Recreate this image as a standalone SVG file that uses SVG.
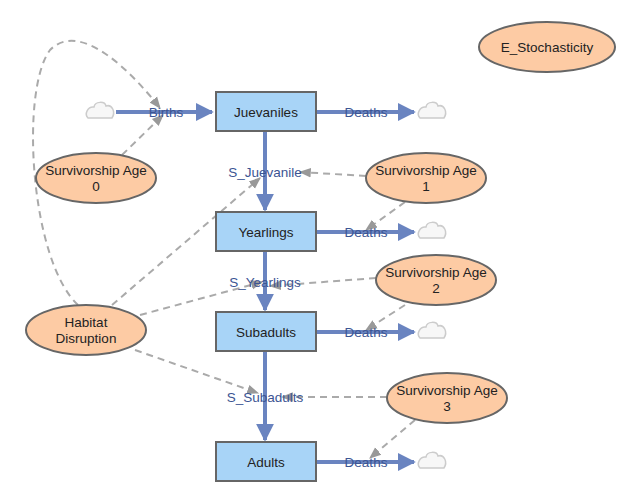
<svg xmlns="http://www.w3.org/2000/svg" width="623" height="504" viewBox="0 0 623 504">
<style>
text{font-family:"Liberation Sans",Arial,sans-serif;font-size:13.5px;text-anchor:middle;dominant-baseline:central;fill:#222}
.box{fill:#a8d4f7;stroke:#666;stroke-width:2}
.ell{fill:#fdcba4;stroke:#666;stroke-width:2}
.flow{stroke:#6a84c0;stroke-width:4;fill:none;marker-end:url(#fa)}
.lnk{stroke:#aaa;stroke-width:2;stroke-dasharray:7,5;fill:none;marker-end:url(#la)}
text.fl{fill:#3c5593}
.cloud{fill:#f7f7f7;stroke:#ccc;stroke-width:1.5}
</style>
<defs>
<marker id="fa" viewBox="0 0 10 10" refX="9" refY="5" markerWidth="4.5" markerHeight="4.5" orient="auto"><path d="M0,0L10,5L0,10z" fill="#6a84c0"/></marker>
<marker id="la" viewBox="0 0 10 10" refX="9" refY="5" markerWidth="6" markerHeight="6" orient="auto"><path d="M0,1L10,5L0,9z" fill="#999"/></marker>
<g id="cl"><path class="cloud" d="M-12,6 C-16,2 -12,-6 -6,-5 C-5,-11 5,-11 6,-6 C12,-8 16,0 12,6 Z"/></g>
</defs>
<g id="connectors">
<path class="flow" d="M116,112H212"/>
<path class="flow" d="M316,112H414"/>
<path class="flow" d="M316,232H414"/>
<path class="flow" d="M316,332H414"/>
<path class="flow" d="M316,462H414"/>
<path class="flow" d="M265,131V210"/>
<path class="flow" d="M265,251V310"/>
<path class="flow" d="M265,351V440"/>
<path class="lnk" d="M122,155L163,115"/>
<path class="lnk" d="M366,176L300,172"/>
<path class="lnk" d="M405,202L366,230"/>
<path class="lnk" d="M376,278L270,286"/>
<path class="lnk" d="M405,305L366,330"/>
<path class="lnk" d="M387,397L282,397"/>
<path class="lnk" d="M415,420L370,458"/>
<path class="lnk" d="M78,305C30,260 20,90 50,50C80,20 130,70 160,108"/>
<path class="lnk" d="M112,305L260,178"/>
<path class="lnk" d="M140,315L262,282"/>
<path class="lnk" d="M135,350L258,393"/>
</g>
<g id="clouds"><use href="#cl" x="100" y="112"/><use href="#cl" x="432" y="112"/><use href="#cl" x="432" y="232"/><use href="#cl" x="432" y="332"/><use href="#cl" x="432" y="462"/></g>
<g id="flowlabels">
<text class="fl" x="166" y="112">Births</text>
<text class="fl" x="366" y="112">Deaths</text>
<text class="fl" x="366" y="232">Deaths</text>
<text class="fl" x="366" y="332">Deaths</text>
<text class="fl" x="366" y="462">Deaths</text>
<text class="fl" x="265" y="172">S_Juevanile</text>
<text class="fl" x="265" y="282">S_Yearlings</text>
<text class="fl" x="265" y="397">S_Subadults</text>
</g>
<g id="Juevaniles"><rect class="box" x="216" y="92" width="100" height="39"/><text x="266" y="112">Juevaniles</text></g>
<g id="Yearlings"><rect class="box" x="216" y="212" width="100" height="39"/><text x="266" y="232">Yearlings</text></g>
<g id="Subadults"><rect class="box" x="216" y="312" width="100" height="39"/><text x="266" y="332">Subadults</text></g>
<g id="Adults"><rect class="box" x="216" y="442" width="100" height="39"/><text x="266" y="462">Adults</text></g>
<g id="E_Stochasticity"><ellipse class="ell" cx="547" cy="47" rx="68" ry="25"/><text x="547" y="47">E_Stochasticity</text></g>
<g id="Age0"><ellipse class="ell" cx="96" cy="178" rx="60" ry="25"/><text x="96" y="170">Survivorship Age</text><text x="96" y="186">0</text></g>
<g id="Age1"><ellipse class="ell" cx="426" cy="178" rx="60" ry="25"/><text x="426" y="170">Survivorship Age</text><text x="426" y="186">1</text></g>
<g id="Age2"><ellipse class="ell" cx="436" cy="280" rx="60" ry="25"/><text x="436" y="272">Survivorship Age</text><text x="436" y="288">2</text></g>
<g id="Age3"><ellipse class="ell" cx="447" cy="398" rx="60" ry="25"/><text x="447" y="390">Survivorship Age</text><text x="447" y="406">3</text></g>
<g id="Habitat"><ellipse class="ell" cx="86" cy="330" rx="60" ry="25"/><text x="86" y="322">Habitat</text><text x="86" y="338">Disruption</text></g>
</svg>
